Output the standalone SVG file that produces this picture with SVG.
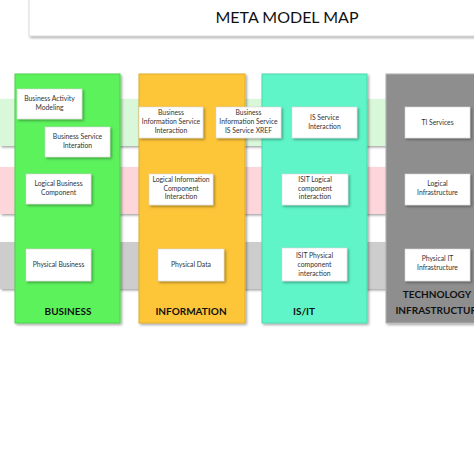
<svg xmlns="http://www.w3.org/2000/svg" width="474" height="474" viewBox="0 0 474 474">
<defs>
<filter id="sh" x="-10%" y="-10%" width="130%" height="130%">
<feDropShadow dx="1.5" dy="1.5" stdDeviation="1" flood-color="#000" flood-opacity="0.35"/>
</filter>
<style>
.band{stroke:none}
.col{stroke-width:1;filter:url(#sh)}
.box{fill:#fff;stroke:#d8d8d8;stroke-width:0.6;filter:url(#sh)}
.t{font-family:Lato,"Open Sans","Liberation Sans",sans-serif;font-size:6.8px;fill:#333;text-anchor:middle}
.lbl{font-family:Lato,"Open Sans","Liberation Sans",sans-serif;font-size:10px;font-weight:bold;fill:#111;text-anchor:middle}
.title{font-family:Lato,"Open Sans","Liberation Sans",sans-serif;font-size:16px;fill:#111;text-anchor:middle}
</style>
</defs>
<rect width="474" height="474" fill="#fff"/>
<g id="title">
<rect x="29" y="-2" width="460" height="38" fill="#fff" stroke="#d0d0d0" stroke-width="0.8" filter="url(#sh)"/>
<text class="title" x="287" y="23">META MODEL MAP</text>
</g>
<g id="bands">
<rect class="band" x="0" y="99" width="390" height="47" fill="#d9f7d9" filter="url(#sh)"/>
<rect class="band" x="0" y="167" width="390" height="47" fill="#fcd6da" filter="url(#sh)"/>
<rect class="band" x="0" y="242" width="390" height="47" fill="#cdcdcd" filter="url(#sh)"/>
</g>
<g id="col-business">
<rect class="col" x="15" y="74" width="105" height="249" fill="#5cf25c" stroke="#4ccf4c"/>
<text class="lbl" x="68" y="315">BUSINESS</text>
</g>
<g id="col-information">
<rect class="col" x="139" y="74" width="106" height="249" fill="#fdc537" stroke="#e0ad2a"/>
<text class="lbl" x="191" y="315">INFORMATION</text>
</g>
<g id="col-isit">
<rect class="col" x="262" y="74" width="105" height="249" fill="#5ff5c8" stroke="#4dd8ac"/>
<text class="lbl" x="304" y="315">IS/IT</text>
</g>
<g id="col-tech">
<rect class="col" x="386" y="74" width="100" height="249" fill="#8e8e8e" stroke="#b0b0b0"/>
<text class="lbl" x="437" y="298">TECHNOLOGY</text>
<text class="lbl" x="439" y="314">INFRASTRUCTURE</text>
</g>
<g id="n-bam"><rect class="box" x="17" y="89" width="65" height="30"/><text class="t" x="49.5" y="101">Business Activity</text><text class="t" x="49.5" y="110">Modeling</text></g>
<g id="n-bsi"><rect class="box" x="45" y="127" width="65" height="30"/><text class="t" x="77.5" y="139">Business Service</text><text class="t" x="77.5" y="148">Interation</text></g>
<g id="n-lbc"><rect class="box" x="26" y="174" width="65" height="30"/><text class="t" x="58.5" y="186">Logical Business</text><text class="t" x="58.5" y="195">Component</text></g>
<g id="n-pb"><rect class="box" x="26" y="249" width="65" height="32"/><text class="t" x="58.5" y="267">Physical Business</text></g>
<g id="n-bisi"><rect class="box" x="139" y="107" width="64" height="31"/><text class="t" x="171" y="115">Business</text><text class="t" x="171" y="124">Information Service</text><text class="t" x="171" y="133">Interaction</text></g>
<g id="n-xref"><rect class="box" x="216" y="107" width="65" height="31"/><text class="t" x="248.5" y="115">Business</text><text class="t" x="248.5" y="124">Information Service</text><text class="t" x="248.5" y="133">IS Service XREF</text></g>
<g id="n-lici"><rect class="box" x="149" y="174" width="64" height="31"/><text class="t" x="181" y="182">Logical Information</text><text class="t" x="181" y="191">Component</text><text class="t" x="181" y="199">Interaction</text></g>
<g id="n-pd"><rect class="box" x="158" y="249" width="66" height="32"/><text class="t" x="191" y="267">Physical Data</text></g>
<g id="n-issi"><rect class="box" x="292" y="107" width="65" height="31"/><text class="t" x="324.5" y="120">IS Service</text><text class="t" x="324.5" y="129">Interaction</text></g>
<g id="n-islci"><rect class="box" x="282" y="174" width="66" height="31"/><text class="t" x="315" y="182">ISIT Logical</text><text class="t" x="315" y="191">component</text><text class="t" x="315" y="199">interaction</text></g>
<g id="n-ispci"><rect class="box" x="282" y="248" width="65" height="33"/><text class="t" x="314.5" y="258">ISIT Physical</text><text class="t" x="314.5" y="267">component</text><text class="t" x="314.5" y="276">interaction</text></g>
<g id="n-tis"><rect class="box" x="405" y="107" width="65" height="31"/><text class="t" x="437.5" y="125">TI Services</text></g>
<g id="n-li"><rect class="box" x="405" y="174" width="65" height="31"/><text class="t" x="437.5" y="186">Logical</text><text class="t" x="437.5" y="195">Infrastructure</text></g>
<g id="n-pit"><rect class="box" x="405" y="249" width="65" height="32"/><text class="t" x="437.5" y="261">Physical IT</text><text class="t" x="437.5" y="270">Infrastructure</text></g>
<g id="connectors"></g>
</svg>
